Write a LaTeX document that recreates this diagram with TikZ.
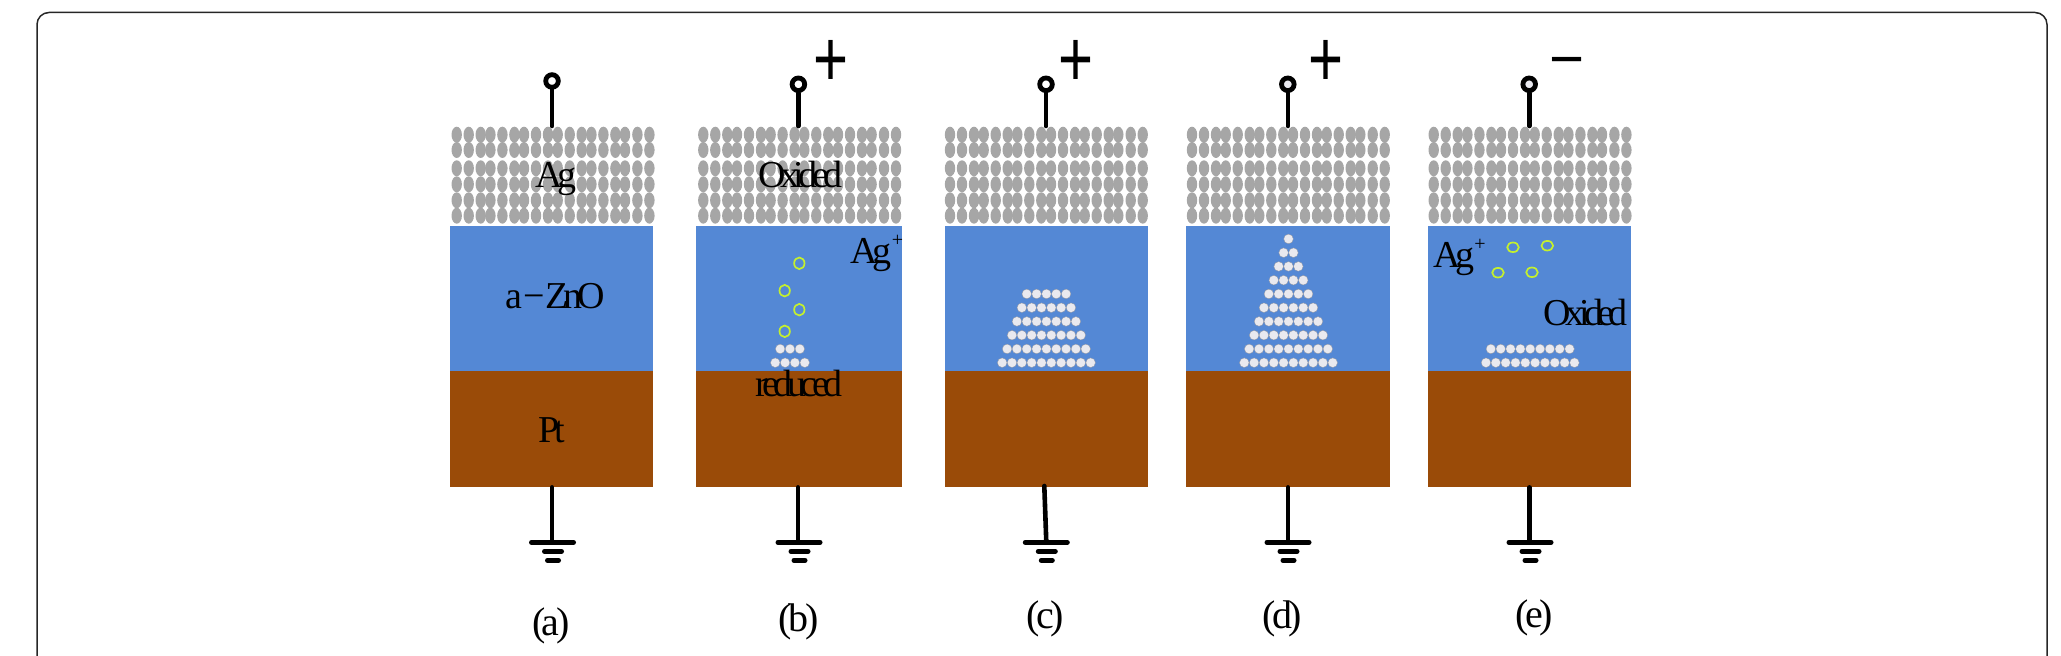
\documentclass[tikz,border=0pt]{standalone}
\usepackage{fontspec}
\usepackage{tikz}
\usetikzlibrary{positioning}
\newfontfamily\labelfont[LetterSpace=-14.5]{Liberation Serif}
\newfontfamily\capfont[LetterSpace=-9]{Liberation Serif}
\newfontfamily\signfont{Liberation Sans}

\definecolor{znoblue}{HTML}{5488D5}
\definecolor{ptbrown}{HTML}{9A4B08}
\definecolor{grain}{HTML}{A6A6A6}
\definecolor{silver}{HTML}{E9E9EF}
\definecolor{silveredge}{HTML}{8C909C}
\definecolor{ion}{HTML}{C4F02E}

\newcommand{\grainlayer}[1]{%
  \foreach \dx in {0,12,24,33.7,45.7,57.7,67.3,79.3,91.3,101,113,125,134.7,146.7,158.7,168.3,180.7,192.7}
    \foreach \ry in {134.7,150,168.3,184.3,200.3,215.7}
      \fill [grain] (#1+\dx,\ry) ellipse [x radius=2.6pt, y radius=4pt];%
}
\newcommand{\silverpile}[3]{%
  \foreach \n in {#2,...,#3} {
    \pgfmathsetmacro{\rowy}{362.7-(#2-\n)*13.75}
    \foreach \k in {1,...,\n}
      \filldraw [fill=silver, draw=silveredge, line width=.15pt] (#1+\k*9.83-\n*4.915-4.915,\rowy) circle [radius=2.4pt];
  }%
}
\newcommand{\groundbars}[1]{%
  \draw [bar] (#1-21,542.3) -- ++(42,0);
  \draw [bar] (#1-8,551.3) -- ++(17,0);
  \draw [bar] (#1-5,560.3) -- ++(11,0);%
}
\newcommand{\ionlabel}{Ag\raisebox{.45em}{\fontsize{10}{10}\selectfont +}}

\begin{document}
\begin{tikzpicture}[x=.5pt, y=-.5pt]

% --- Define Styles ---
\tikzstyle{frame} = [line width=.75pt, draw=black!85, rounded corners=6pt]
\tikzstyle{zno} = [rectangle, fill=znoblue, minimum height=72.4pt, inner sep=0pt, anchor=north west]
\tikzstyle{pt} = [rectangle, fill=ptbrown, minimum height=57.8pt, inner sep=0pt]
\tikzstyle{terminal} = [circle, draw=black, fill=white, line width=2.4pt, minimum size=6.3pt, inner sep=0pt]
\tikzstyle{wire} = [line width=2.3pt, line cap=round, draw=black]
\tikzstyle{bar} = [line width=2.5pt, line cap=round, draw=black]
\tikzstyle{label} = [inner sep=0pt, anchor=base, font=\labelfont\fontsize{19}{22}\selectfont]
\tikzstyle{caption} = [inner sep=0pt, anchor=base, font=\capfont\fontsize{20}{22}\selectfont]
\tikzstyle{sign} = [inner sep=0pt, anchor=base, font=\signfont\fontsize{30}{32}\selectfont]
\tikzstyle{ionring} = [draw=ion, line width=.85pt]

\useasboundingbox (0,0) rectangle (2061,656);
\draw [frame] (37,656) -- (37,12.5) -- (2047,12.5) -- (2047,656);

% --- Layers ---
\node (znoa) [zno, minimum width=101.4pt] at (450,226) {};
\node (znob) [zno, minimum width=103pt] at (696,226) {};
\node (znoc) [zno, minimum width=101.5pt] at (945,226) {};
\node (znod) [zno, minimum width=102pt] at (1186,226) {};
\node (znoe) [zno, minimum width=101.4pt] at (1428,226) {};
\node (pta) [pt, minimum width=101.4pt, below=-.3pt of znoa] {};
\node (ptb) [pt, minimum width=103pt, below=-.3pt of znob] {};
\node (ptc) [pt, minimum width=101.5pt, below=-.3pt of znoc] {};
\node (ptd) [pt, minimum width=102pt, below=-.3pt of znod] {};
\node (pte) [pt, minimum width=101.4pt, below=-.3pt of znoe] {};

\grainlayer{456.7}
\grainlayer{703.3}
\grainlayer{950}
\grainlayer{1192}
\grainlayer{1433.7}

% --- Filaments and ions ---
\silverpile{790}{4}{3}
\silverpile{1046.4}{10}{5}
\silverpile{1288.5}{10}{1}
\silverpile{1530.2}{10}{9}
\foreach \ix/\iy in {799.3/263.3,784.7/290.7,799.3/309.7,784.7/331.3}
  \draw [ionring] (\ix,\iy) ellipse [x radius=2.6pt, y radius=2.9pt];
\foreach \ix/\iy in {1513/247.3,1547.3/245.7,1498/272.7,1532/272.3}
  \draw [ionring] (\ix,\iy) ellipse [x radius=2.9pt, y radius=2.4pt];

% --- Terminals ---
\node (topa) [terminal] at (552,81) {};
\node (topb) [terminal] at (798.4,84.3) {};
\node (topc) [terminal] at (1046,84.3) {};
\node (topd) [terminal, fill=silver] at (1287.8,84.3) {};
\node (tope) [terminal, fill=silver] at (1529.2,84.3) {};
\coordinate (conta) at (552,126);
\coordinate (contb) at (798.4,126);
\coordinate (contc) at (1046,126);
\coordinate (contd) at (1287.8,126);
\coordinate (conte) at (1529.2,126);
\coordinate (gnda) at (552,542.3);
\coordinate (gndb) at (798,542.3);
\coordinate (gndc) at (1046.3,542.3);
\coordinate (gndd) at (1288,542.3);
\coordinate (gnde) at (1529.3,542.3);
\coordinate (tiltc) at (1044.3,486);

% --- Wires ---
\draw [wire] (topa) -- (conta);
\draw [wire] (topb) -- (contb);
\draw [wire] (topc) -- (contc);
\draw [wire] (topd) -- (contd);
\draw [wire] (tope) -- (conte);
\draw [wire] (gnda |- pta.south) -- (gnda);
\draw [wire] (gndb |- ptb.south) -- (gndb);
\draw [wire] (tiltc) -- (gndc);
\draw [wire] (gndd |- ptd.south) -- (gndd);
\draw [wire] (gnde |- pte.south) -- (gnde);
\groundbars{552.5}
\groundbars{799}
\groundbars{1046.3}
\groundbars{1288}
\groundbars{1530}

% --- Labels ---
\node (signb) [sign] at (831,86.5) {\scalebox{1}[1.33]{+}};
\node (signc) [sign] at (1076,86.5) {\scalebox{1}[1.33]{+}};
\node (signd) [sign] at (1325.7,86.5) {\scalebox{1}[1.33]{+}};
\node (signe) [sign] at (1566.7,80) {−};

\node (laga) [label] at (556,188) {Ag};
\node (lznoa) [label] at (555,309) {a\kern.04em−\kern.02em ZnO};
\node (lpta) [label] at (552,443) {Pt};
\node (loxb) [label] at (800.3,188) {Oxided};
\node (lionb) [label] at (877,264) {\ionlabel};
\node (lredb) [label] at (799,396.7) {reduced};
\node (lione) [label] at (1459.5,267.3) {\ionlabel};
\node (loxe) [label] at (1585.7,325.3) {Oxided};

\node (capa) [caption] at (550.7,635.5) {(a)};
\node (capb) [caption] at (798.7,631.5) {(b)};
\node (capc) [caption] at (1045.3,628.2) {(c)};
\node (capd) [caption] at (1282.3,628.2) {(d)};
\node (cape) [caption] at (1534,628) {(e)};

\end{tikzpicture}
\end{document}
